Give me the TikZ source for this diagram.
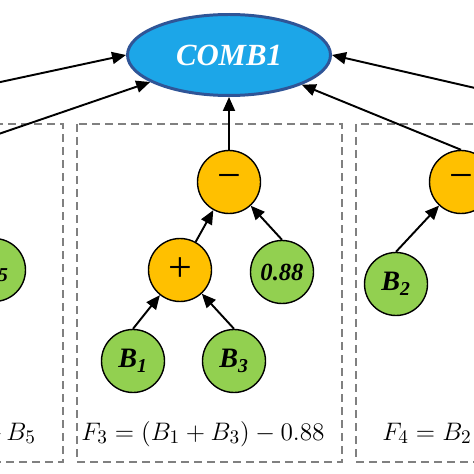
\documentclass[tikz,border=0pt]{standalone}
\usepackage{fontspec}
\setmainfont{Liberation Serif}
\usetikzlibrary{shapes.geometric,arrows.meta}
\definecolor{combblue}{RGB}{28,166,232}
\definecolor{combedge}{RGB}{47,85,151}
\definecolor{leafgreen}{RGB}{146,208,80}
\definecolor{opyellow}{RGB}{255,192,0}
\definecolor{boxgray}{RGB}{128,128,128}
\tikzset{
	leaf/.style={circle, draw=black, line width=0.8pt, fill=leafgreen, minimum size=1.26cm, inner sep=0pt, font=\fontsize{16}{18}\selectfont\bfseries\itshape},
	op/.style={circle, draw=black, line width=0.8pt, fill=opyellow, minimum size=1.26cm, inner sep=0pt, font=\fontsize{24}{26}\selectfont},
	arr/.style={line width=1.1pt, -{Triangle[length=0.28cm, width=0.24cm]}},
	fbox/.style={draw=boxgray, line width=0.85pt, dash pattern=on 0.16cm off 0.1cm},
	formula/.style={anchor=base, font=\fontsize{15}{17}\selectfont}
}
\begin{document}
\begin{tikzpicture}
	\useasboundingbox (0,0) rectangle (9.48,-9.48);
	%laatikot
	\draw[fbox] (-3,-2.48) rectangle (1.26,-9.24);
	\draw[fbox] (1.54,-2.48) rectangle (6.84,-9.24);
	\draw[fbox] (7.12,-2.48) rectangle (10.5,-9.24);
	%yhdistelma
	\node[ellipse, draw=combedge, line width=1.7pt, fill=combblue, minimum width=4.06cm, minimum height=1.62cm, inner sep=0pt, text=white, font=\fontsize{17.5}{20}\selectfont\bfseries\itshape] (comb) at (4.58,-1.10) {COMB1};
	%vasen puu
	\node[leaf] (b5) at (-0.12,-5.40) {B\textsubscript{5}};
	\node[formula, anchor=base east] (f2) at (0.84,-8.80) {$+\,B_5$};
	\coordinate (farleft) at (-1.2,-1.90);
	\coordinate (left2) at (-0.96,-3.00);
	%keskimmainen puu
	\node[op] (minus3) at (4.58,-3.64) {\textminus};
	\node[op] (plus3) at (3.60,-5.40) {+};
	\node[leaf, font=\fontsize{14}{16}\selectfont\bfseries\itshape] (c088) at (5.64,-5.44) {0.88};
	\node[leaf] (b1) at (2.66,-7.22) {B\textsubscript{1}};
	\node[leaf] (b3) at (4.68,-7.22) {B\textsubscript{3}};
	\node[formula] (f3) at (4.06,-8.80) {$F_3=(B_1+B_3)-0.88$};
	%oikea puu
	\node[op] (minus4) at (9.22,-3.64) {\textminus};
	\node[leaf] (b2) at (7.92,-5.68) {B\textsubscript{2}};
	\node[formula] (f4) at (8.54,-8.80) {$F_4=B_2$};
	\coordinate (farright) at (10.8,-2.06);
	%nuolet
	\draw[arr] (b1.north) -- (plus3);
	\draw[arr] (b3.north) -- (plus3);
	\draw[arr] (plus3) -- (minus3);
	\draw[arr] (c088.north) -- (minus3);
	\draw[arr] (b2.north) -- (minus4);
	\draw[arr] (minus3.north) -- (comb);
	\draw[arr] (minus4.north) -- (comb);
	\draw[arr] (left2) -- (comb);
	\draw[arr] (farleft) -- (comb.west);
	\draw[arr] (farright) -- (comb.east);
\end{tikzpicture}
\end{document}
